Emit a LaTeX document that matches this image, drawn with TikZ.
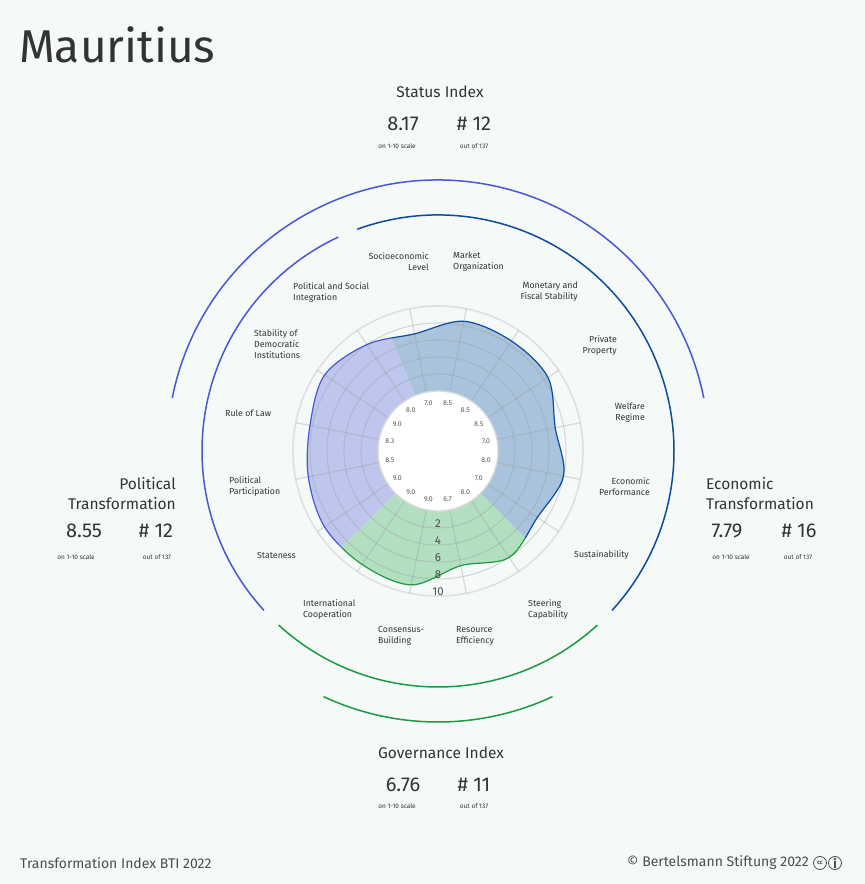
\documentclass[tikz,border=0pt]{standalone}
\usepackage{fontspec}
\setmainfont{Fira Sans}
\begin{document}
\begin{tikzpicture}[x=1pt,y=1pt,
  txt/.style={text=tc,inner sep=0pt},
  lab/.style={txt,font=\fontsize{8.8}{11.2}\selectfont},
  val/.style={txt,font=\fontsize{7}{7}\selectfont,text=black!65},
  big/.style={txt,font=\fontsize{20}{22}\selectfont},
  head/.style={txt,font=\fontsize{15.5}{20}\selectfont},
  tiny/.style={txt,font=\fontsize{6.5}{7}\selectfont},
  grid/.style={draw=black!40,opacity=0.35,line width=1.1pt}]
\definecolor{bg}{HTML}{F5F9F8}
\definecolor{tc}{HTML}{333333}
\definecolor{ecL}{HTML}{0B4C9C}\definecolor{ecF}{HTML}{A9C3DC}
\definecolor{poL}{HTML}{4857D4}\definecolor{poF}{HTML}{BFC6EE}
\definecolor{goL}{HTML}{1C9A3F}\definecolor{goF}{HTML}{B3DFC1}
\fill[bg] (0,0) rectangle (865,884);
\useasboundingbox (0,0) rectangle (865,884);
\node[txt,anchor=west,font=\fontsize{46}{50}\selectfont] (title) at (19,839) {Mauritius};
\begin{scope}[shift={(438,433)}]
\def\datapath{plot[smooth cycle,tension=0.55] coordinates {(101.25:119.5)(78.75:132.25)(56.25:132.25)(33.75:132.25)(11.25:119.5)(-11.25:128)(-33.75:119.5)(-56.25:128)(-78.75:116.95)(-101.25:136.5)(-123.75:136.5)(-146.25:136.5)(-168.75:132.25)(168.75:130.55)(146.25:136.5)(123.75:128)}}
\foreach \a/\b/\f/\l in {112.5/-45/ecF/ecL,112.5/225/poF/poL,225/315/goF/goL}{
 \begin{scope}
 \clip (0,0) -- (\a:200) arc[start angle=\a,end angle=\b,radius=200] -- cycle;
 \fill[\f] \datapath;
 \end{scope}}
% grid
\draw[black!12,line width=1.6pt] (0,0) circle[radius=145];
\foreach \r in {77,94,111,128} \draw[grid] (0,0) circle[radius=\r];
\foreach \k in {0,...,15} \draw[grid] (101.25-22.5*\k:60) -- (101.25-22.5*\k:145);
\fill[white] (0,0) circle[radius=60];
\draw[black!15,line width=1.4pt] (0,0) circle[radius=60];
% outlines
\foreach \a/\b/\l in {112.5/-45/ecL,112.5/225/poL,225/315/goL}{
 \begin{scope}
 \clip (0,0) -- (\a:200) arc[start angle=\a,end angle=\b,radius=200] -- cycle;
 \draw[\l,line width=1.2pt] \datapath;
 \end{scope}}
% values
\foreach \v [count=\k from 0] in {7.0,8.5,8.5,8.5,7.0,8.0,7.0,8.0,6.7,9.0,9.0,9.0,8.5,8.3,9.0,8.0}
  \node[val] (v\k) at (101.25-22.5*\k:49) {\v};
\foreach \s/\r in {2/73,4/90,6/107,8/124,10/141}
  \node[txt,font=\fontsize{11.5}{12}\selectfont,text=black!70] (s\s) at (-90:\r) {\s};
% arcs
\draw[ecL,line width=1.5pt] (110:236) arc[start angle=110,end angle=-42.5,radius=236];
\draw[poL,line width=1.5pt] (115:236) arc[start angle=115,end angle=222.5,radius=236];
\draw[goL,line width=1.5pt] (227.5:236) arc[start angle=227.5,end angle=312.5,radius=236];
\draw[poL,line width=1.5pt] (168.75:271) arc[start angle=168.75,end angle=11.25,radius=271];
\draw[goL,line width=1.5pt] (245:271) arc[start angle=245,end angle=295,radius=271];
\end{scope}
% category labels
\begin{scope}[every node/.append style={lab}]
\node[anchor=north east,align=right] (l1) at (429,632) {Socioeconomic\\Level};
\node[anchor=north west,align=left] (l2) at (453,632) {Market\\Organization};
\node[anchor=north east,align=right] (l3) at (578,602) {Monetary and\\Fiscal Stability};
\node[anchor=north east,align=right] (l4) at (617,549) {Private\\Property};
\node[anchor=north east,align=right] (l5) at (645,481) {Welfare\\Regime};
\node[anchor=north east,align=right] (l6) at (650,407) {Economic\\Performance};
\node[anchor=east] (l7) at (629,329) {Sustainability};
\node[anchor=north west,align=left] (l8) at (528,285) {Steering\\Capability};
\node[anchor=north west,align=left] (l9) at (456,258) {Resource\\Efficiency};
\node[anchor=north west,align=left] (l10) at (378,258) {Consensus-\\Building};
\node[anchor=north west,align=left] (l11) at (303,285) {International\\Cooperation};
\node[anchor=west] (l12) at (257,329) {Stateness};
\node[anchor=north west,align=left] (l13) at (229,408) {Political\\Participation};
\node[anchor=west] (l14) at (225,471) {Rule of Law};
\node[anchor=north west,align=left] (l15) at (254,555) {Stability of\\Democratic\\Institutions};
\node[anchor=north west,align=left] (l16) at (293,602) {Political and Social\\Integration};
\end{scope}
% index blocks
\node[head] (si) at (440,792) {Status Index};
\node[big] (sv) at (403,760) {8.17};
\node[big] (sr) at (474,760) {\# 12};
\node[tiny] (ss) at (397,738) {on 1-10 scale};
\node[tiny] (so) at (474,738) {out of 137};
\node[head,anchor=north east,align=right] (pt) at (176,407) {Political\\Transformation};
\node[big] (pv) at (84,353) {8.55};
\node[big] (pr) at (156,353) {\# 12};
\node[tiny] (ps) at (76,327) {on 1-10 scale};
\node[tiny] (po) at (157,327) {out of 137};
\node[head,anchor=north west,align=left] (et) at (706,407) {Economic\\Transformation};
\node[big] (ev) at (727,353) {7.79};
\node[big] (er) at (799,353) {\# 16};
\node[tiny] (es) at (731,327) {on 1-10 scale};
\node[tiny] (eo) at (798,327) {out of 137};
\node[head] (gi) at (441,131) {Governance Index};
\node[big] (gv) at (403,99) {6.76};
\node[big] (gr) at (474,99) {\# 11};
\node[tiny] (gs) at (397,78) {on 1-10 scale};
\node[tiny] (go) at (474,78) {out of 137};
% footer
\node[txt,anchor=west,font=\fontsize{14}{15}\selectfont,text=black!70] (f1) at (20,21) {Transformation Index BTI 2022};
\node[txt,anchor=east,font=\fontsize{14}{15}\selectfont,text=black!70] (f2) at (809,21) {© Bertelsmann Stiftung 2022};
\draw[black!70,line width=0.8pt] (820,21) circle[radius=6.5] (835,21) circle[radius=6.5];
\node[txt,font=\fontsize{6}{6}\selectfont\bfseries,text=black!70] (cc) at (820,21) {cc};
\fill[black!70] (835,25) circle[radius=1.3];
\draw[black!70,line width=1.4pt] (835,22.5) -- (835,16);
\end{tikzpicture}
\end{document}
